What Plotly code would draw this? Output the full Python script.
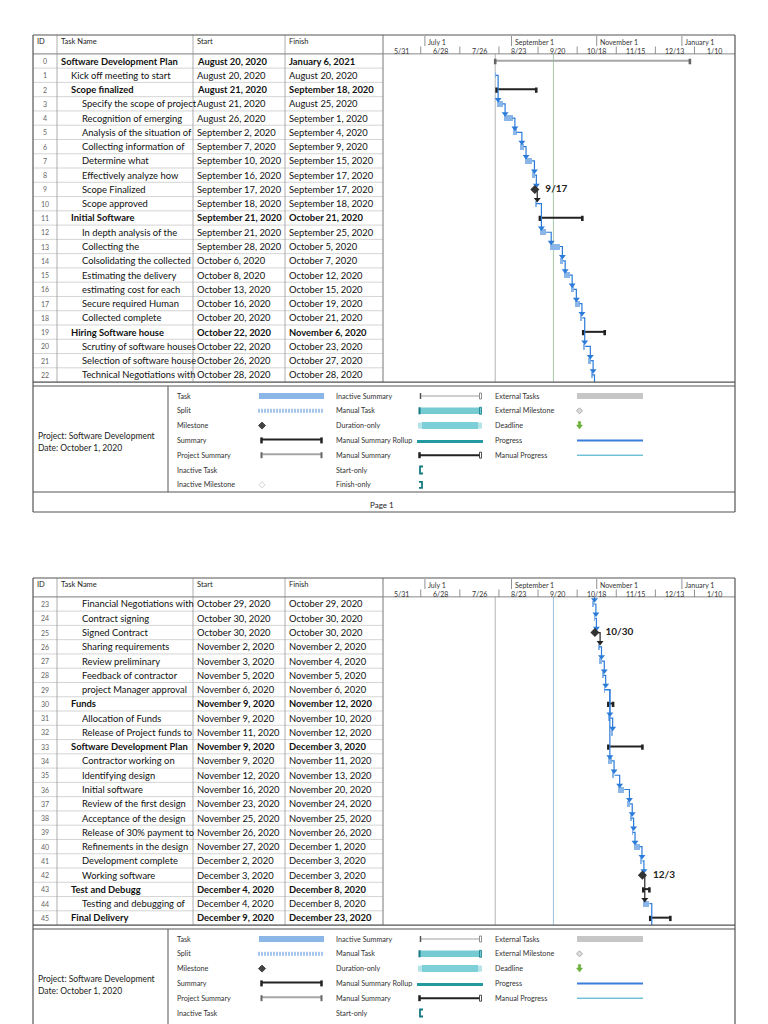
import plotly.graph_objects as go
from datetime import datetime, timedelta

# ---------------- data ----------------
IDS = list(range(46))
NAMES = [
    "Software Development Plan", "Kick off meeting to start", "Scope finalized",
    "Specify the scope of project", "Recognition of emerging", "Analysis of the situation of",
    "Collecting information of", "Determine what", "Effectively analyze how",
    "Scope Finalized", "Scope approved", "Initial Software", "In depth analysis of the",
    "Collecting the", "Colsolidating the collected", "Estimating the delivery",
    "estimating cost for each", "Secure required Human", "Collected complete",
    "Hiring Software house", "Scrutiny of software houses", "Selection of software house",
    "Technical Negotiations with", "Financial Negotiations with", "Contract signing",
    "Signed Contract", "Sharing requirements", "Review preliminary", "Feedback of contractor",
    "project Manager approval", "Funds", "Allocation of Funds", "Release of Project funds to",
    "Software Development Plan", "Contractor working on", "Identifying design",
    "Initial software", "Review of the first design", "Acceptance of the design",
    "Release of 30% payment to", "Refinements in the design", "Development complete",
    "Working software", "Test and Debugg", "Testing and debugging of", "Final Delivery",
]
STARTS = [
    "2020-08-20", "2020-08-20", "2020-08-21", "2020-08-21", "2020-08-26", "2020-09-02",
    "2020-09-07", "2020-09-10", "2020-09-16", "2020-09-17", "2020-09-18", "2020-09-21",
    "2020-09-21", "2020-09-28", "2020-10-06", "2020-10-08", "2020-10-13", "2020-10-16",
    "2020-10-20", "2020-10-22", "2020-10-22", "2020-10-26", "2020-10-28", "2020-10-29",
    "2020-10-30", "2020-10-30", "2020-11-02", "2020-11-03", "2020-11-05", "2020-11-06",
    "2020-11-09", "2020-11-09", "2020-11-11", "2020-11-09", "2020-11-09", "2020-11-12",
    "2020-11-16", "2020-11-23", "2020-11-25", "2020-11-26", "2020-11-27", "2020-12-02",
    "2020-12-03", "2020-12-04", "2020-12-04", "2020-12-09",
]
FINISHES = [
    "2021-01-06", "2020-08-20", "2020-09-18", "2020-08-25", "2020-09-01", "2020-09-04",
    "2020-09-09", "2020-09-15", "2020-09-17", "2020-09-17", "2020-09-18", "2020-10-21",
    "2020-09-25", "2020-10-05", "2020-10-07", "2020-10-12", "2020-10-15", "2020-10-19",
    "2020-10-21", "2020-11-06", "2020-10-23", "2020-10-27", "2020-10-28", "2020-10-29",
    "2020-10-30", "2020-10-30", "2020-11-02", "2020-11-04", "2020-11-05", "2020-11-06",
    "2020-11-12", "2020-11-10", "2020-11-12", "2020-12-03", "2020-11-11", "2020-11-13",
    "2020-11-20", "2020-11-24", "2020-11-25", "2020-11-26", "2020-12-01", "2020-12-03",
    "2020-12-03", "2020-12-08", "2020-12-08", "2020-12-23",
]
# P = project summary, S = summary, M = milestone, T = task
KINDS = ["P", "T", "S", "T", "T", "T", "T", "T", "T", "M", "T", "S", "T", "T", "T", "T",
         "T", "T", "T", "S", "T", "T", "T", "T", "T", "M", "T", "T", "T", "T", "S", "T",
         "T", "S", "T", "T", "T", "T", "T", "T", "T", "T", "M", "S", "T", "S"]
LEVELS = [0, 1, 1, 2, 2, 2, 2, 2, 2, 2, 2, 1, 2, 2, 2, 2, 2, 2, 2, 1, 2, 2, 2, 2, 2, 2,
          2, 2, 2, 2, 1, 2, 2, 1, 2, 2, 2, 2, 2, 2, 2, 2, 2, 1, 2, 1]
LINKS = [(1, 3), (3, 4), (4, 5), (5, 6), (6, 7), (7, 8), (8, 9), (9, 10), (10, 12),
         (12, 13), (13, 14), (14, 15), (15, 16), (16, 17), (17, 18), (18, 20), (20, 21),
         (21, 22), (22, 23), (23, 24), (24, 25), (25, 26), (26, 27), (27, 28), (28, 29),
         (29, 31), (31, 32), (29, 34), (34, 35), (35, 36), (36, 37), (37, 38), (38, 39),
         (39, 40), (40, 41), (41, 42), (42, 44), (44, 46)]
NEXT_PAGE_START = {46: "2020-12-09"}   # successor continuing on the following page

BOTTOM_TICKS = ["2020-05-31", "2020-06-28", "2020-07-26", "2020-08-23", "2020-09-20",
                "2020-10-18", "2020-11-15", "2020-12-13", "2021-01-10"]
BOTTOM_LABELS = ["5/31", "6/28", "7/26", "8/23", "9/20", "10/18", "11/15", "12/13", "1/10"]
TOP_TICKS = ["2020-07-01", "2020-09-01", "2020-11-01", "2021-01-01"]
TOP_LABELS = ["July 1", "September 1", "November 1", "January 1"]
STATUS_DATE = "2020-10-01"
PROJECT_START = "2020-08-20"
X_RANGE = ["2020-06-01", "2021-02-08"]

LEGEND_COL1 = ["Task", "Split", "Milestone", "Summary", "Project Summary", "Inactive Task",
               "Inactive Milestone"]
LEGEND_COL2 = ["Inactive Summary", "Manual Task", "Duration-only", "Manual Summary Rollup",
               "Manual Summary", "Start-only", "Finish-only"]
LEGEND_COL3 = ["External Tasks", "External Milestone", "Deadline", "Progress", "Manual Progress"]
MONTHS = ["January", "February", "March", "April", "May", "June", "July", "August",
          "September", "October", "November", "December"]

# ---------------- style / geometry ----------------
W, H = 768, 1024
PAGE_SHIFT = 8          # the page body margin offsets the figure by 8px
FONT = "Lato, 'Open Sans', sans-serif"
TASK_COLOR = "#8AB6E8"
LINK_COLOR = "#2B7BD9"
DARK = "#222222"
GRID = "#C9C9C9"
BORDER = "#555555"

PAGE_OFF = 543
ROW0 = 61.0
PITCH = 14.27
XL, XID, XNAME, XSTART, XG, XR = 33, 57, 193, 285, 383, 735
PAGE_TOP = 35
ROWS_TOP = ROW0 - PITCH / 2
ROWS_BOT = ROWS_TOP + 23 * PITCH


def fx(x):
    return (x - PAGE_SHIFT) / W


def fy(y):
    return 1 - (y - PAGE_SHIFT) / H


def ts(s, h=0):
    return datetime.fromisoformat(s) + timedelta(hours=h)


def fmt(s):
    d = datetime.fromisoformat(s)
    return f"{MONTHS[d.month - 1]} {d.day}, {d.year}"


shapes = []
annotations = []


def pline(x0, y0, x1, y1, color=BORDER, width=1, dash=None):
    ln = dict(color=color, width=width)
    if dash:
        ln["dash"] = dash
    shapes.append(dict(type="line", xref="paper", yref="paper", x0=fx(x0), y0=fy(y0),
                       x1=fx(x1), y1=fy(y1), line=ln, layer="above"))


def prect(x0, y0, x1, y1, fill, lcolor=None, lwidth=0):
    shapes.append(dict(type="rect", xref="paper", yref="paper", x0=fx(x0), y0=fy(y0),
                       x1=fx(x1), y1=fy(y1), fillcolor=fill,
                       line=dict(color=lcolor or fill, width=lwidth), layer="above"))


def ppath(points, fill=None, color=DARK, width=1, close=True):
    d = "M " + " L ".join(f"{fx(x)},{fy(y)}" for x, y in points) + (" Z" if close else "")
    shapes.append(dict(type="path", xref="paper", yref="paper", path=d,
                       fillcolor=fill if fill else "rgba(0,0,0,0)",
                       line=dict(color=color, width=width), layer="above"))


def ptext(x, y, text, size=8, color="#333333", anchor="left"):
    annotations.append(dict(x=fx(x), y=fy(y), xref="paper", yref="paper", text=text,
                            showarrow=False, xanchor=anchor, yanchor="middle",
                            font=dict(family=FONT, size=size, color=color)))


fig = go.Figure()


# ---------------- gantt traces (drawn on each page's axes) ----------------
def add_gantt(xa, ya):
    t_rows = [i for i, k in enumerate(KINDS) if k == "T"]
    bases = [ts(STARTS[i], 8) for i in t_rows]
    ends = [ts(FINISHES[i], 17) for i in t_rows]
    fig.add_trace(go.Bar(orientation="h", y=t_rows, base=bases,
                         x=[(e - b).total_seconds() * 1000 for b, e in zip(bases, ends)],
                         width=0.42, marker=dict(color=TASK_COLOR, line=dict(width=0)),
                         xaxis=xa, yaxis=ya, hoverinfo="skip"))

    # summaries
    for kind, col, tcol in (("S", DARK, DARK), ("P", "#A6A6A6", "#666666")):
        hx, hy, tx, ty = [], [], [], []
        for i, k in enumerate(KINDS):
            if k != kind:
                continue
            s, e = ts(STARTS[i], 8), ts(FINISHES[i], 17)
            hx += [s, e, None]
            hy += [i - 0.02, i - 0.02, None]
            for xx in (s, e):
                tx += [xx, xx, None]
                ty += [i - 0.15, i + 0.22, None]
        fig.add_trace(go.Scatter(x=hx, y=hy, mode="lines", line=dict(color=col, width=2),
                                 xaxis=xa, yaxis=ya, hoverinfo="skip"))
        fig.add_trace(go.Scatter(x=tx, y=ty, mode="lines", line=dict(color=tcol, width=2.6),
                                 xaxis=xa, yaxis=ya, hoverinfo="skip"))

    # links
    def node_start(j):
        if j in NEXT_PAGE_START:
            return ts(NEXT_PAGE_START[j], 8)
        if KINDS[j] == "M":
            return ts(FINISHES[j], 17)
        return ts(STARTS[j], 8)

    for black in (False, True):
        lx, ly, ax, ay = [], [], [], []
        for p, s in LINKS:
            if (KINDS[p] == "M") != black:
                continue
            pe = ts(FINISHES[p], 17)
            ss = node_start(s)
            xv = max(pe, ss) + timedelta(hours=26)
            lx += [pe, xv, xv, None]
            ly += [p, p, s - 0.34, None]
            ax.append(xv)
            ay.append(s - 0.3)
        col = DARK if black else LINK_COLOR
        fig.add_trace(go.Scatter(x=lx, y=ly, mode="lines", line=dict(color=col, width=1.2),
                                 xaxis=xa, yaxis=ya, hoverinfo="skip"))
        fig.add_trace(go.Scatter(x=ax, y=ay, mode="markers",
                                 marker=dict(symbol="triangle-down", size=6, color=col),
                                 xaxis=xa, yaxis=ya, hoverinfo="skip"))

    # milestones
    m_rows = [i for i, k in enumerate(KINDS) if k == "M"]
    m_x = [ts(FINISHES[i], 17) for i in m_rows]
    m_txt = []
    for i in m_rows:
        d = datetime.fromisoformat(FINISHES[i])
        m_txt.append(f"  <b>{d.month}/{d.day}</b>")
    fig.add_trace(go.Scatter(x=m_x, y=m_rows, mode="markers+text", text=m_txt,
                             textposition="middle right",
                             textfont=dict(family=FONT, size=10, color=DARK),
                             marker=dict(symbol="diamond", size=7, color="#333333"),
                             xaxis=xa, yaxis=ya, hoverinfo="skip"))


add_gantt("x", "y")
add_gantt("x2", "y2")


# ---------------- page furniture ----------------
def draw_page(p):
    off = p * PAGE_OFF
    xa = "x" if p == 0 else "x2"
    ya = "y" if p == 0 else "y2"
    r0 = 23 * p
    top = PAGE_TOP + off
    rtop = ROWS_TOP + off
    rbot = ROWS_BOT + off

    # row grid lines in table
    for k in range(24):
        shapes.append(dict(type="line", xref="paper", yref=ya, x0=fx(XL), x1=fx(XG),
                           y0=r0 - 0.5 + k, y1=r0 - 0.5 + k,
                           line=dict(color=GRID, width=0.8), layer="below"))
    # column lines
    for x in (XID, XNAME, XSTART):
        pline(x, top, x, rbot, color="#9A9A9A", width=0.8)
    pline(XG, top, XG, rbot, color="#777777", width=1)
    pline(XL, rtop, XR, rtop, color="#888888", width=1)
    pline(XL, rbot, XR, rbot, color=BORDER, width=1.2)

    # header texts
    for x, t in ((35, "ID"), (58.5, "Task Name"), (194.5, "Start"), (286.5, "Finish")):
        ptext(x, top + 6, t, size=7.5, color="#222222")

    # timescale
    for d, lab in zip(TOP_TICKS, TOP_LABELS):
        shapes.append(dict(type="line", xref=xa, yref="paper", x0=d, x1=d,
                           y0=fy(top + 1), y1=fy(top + 11), line=dict(color="#777777", width=0.8)))
        annotations.append(dict(x=d, y=fy(top + 6.5), xref=xa, yref="paper", text=lab,
                                showarrow=False, xanchor="left", yanchor="middle", xshift=1,
                                font=dict(family=FONT, size=7, color="#333333")))
    for k, (d, lab) in enumerate(zip(BOTTOM_TICKS, BOTTOM_LABELS)):
        if k > 0:
            shapes.append(dict(type="line", xref=xa, yref="paper", x0=d, x1=d,
                               y0=fy(top + 11.5), y1=fy(rtop), line=dict(color="#777777", width=0.8)))
        mid = ts(d) + timedelta(days=14)
        annotations.append(dict(x=mid, y=fy(top + 15.5), xref=xa, yref="paper", text=lab,
                                showarrow=False, xanchor="center", yanchor="middle",
                                font=dict(family=FONT, size=7, color="#333333")))

    # vertical date lines in gantt
    shapes.append(dict(type="line", xref=xa, yref="paper", x0=ts(PROJECT_START, 8),
                       x1=ts(PROJECT_START, 8), y0=fy(rtop), y1=fy(rbot),
                       line=dict(color="#B5B5B5", width=1), layer="below"))
    scol = "#A9CBA4" if p == 0 else "#9FC0E0"
    shapes.append(dict(type="line", xref=xa, yref="paper", x0=ts(STATUS_DATE),
                       x1=ts(STATUS_DATE), y0=fy(rtop), y1=fy(rbot),
                       line=dict(color=scol, width=1), layer="below"))

    # table text
    for j in range(r0, r0 + 23):
        bold = KINDS[j] in ("S", "P")
        b0, b1 = ("<b>", "</b>") if bold else ("", "")
        annotations.append(dict(x=fx(45), y=j, xref="paper", yref=ya, text=str(IDS[j]),
                                showarrow=False, xanchor="center", yanchor="middle",
                                font=dict(family=FONT, size=7, color="#666666")))
        nx = 58.5 + 10.5 * LEVELS[j]
        for x, t in ((nx, NAMES[j]), (194.5, fmt(STARTS[j])), (286.5, fmt(FINISHES[j]))):
            annotations.append(dict(x=fx(x), y=j, xref="paper", yref=ya, text=b0 + t + b1,
                                    showarrow=False, xanchor="left", yanchor="middle",
                                    font=dict(family=FONT, size=9.4, color="#111111")))

    # legend box
    lt, lb = 386 + off, 492 + off
    pline(XL, lt, XR, lt, color=BORDER, width=1.2)
    pline(XL, lb, XR, lb, color=BORDER, width=1.2)
    pline(168, lt, 168, lb, color=BORDER, width=1)
    ptext(36, 436 + off, "Project: Software Development", size=8.5, color="#222222")
    ptext(36, 448 + off, "Date: October 1, 2020", size=8.5, color="#222222")
    rows_y = [396 + off + 14.8 * i for i in range(7)]
    visible = [yy < H + PAGE_SHIFT - 6 for yy in rows_y]
    for i, t in enumerate(LEGEND_COL1):
        if visible[i]:
            ptext(175, rows_y[i], t, size=7.2)
    for i, t in enumerate(LEGEND_COL2):
        if visible[i]:
            ptext(334, rows_y[i], t, size=7.2)
    for i, t in enumerate(LEGEND_COL3):
        if visible[i]:
            ptext(493, rows_y[i], t, size=7.2)
    y = rows_y
    # col1 symbols
    prect(259, y[0] - 3, 324, y[0] + 3, TASK_COLOR)
    for i in range(22):
        xx = 259 + i * 3.0
        pline(xx, y[1] - 2, xx, y[1] + 2, color="#4C8ED6", width=1)
    ppath([(262, y[2] - 3.5), (265.5, y[2]), (262, y[2] + 3.5), (258.5, y[2])], fill="#444444",
          color="#444444")
    pline(261, y[3] - 1, 322, y[3] - 1, color=DARK, width=2)
    pline(261.5, y[3] - 3, 261.5, y[3] + 3, color=DARK, width=2.5)
    pline(321.5, y[3] - 3, 321.5, y[3] + 3, color=DARK, width=2.5)
    pline(261, y[4] - 1, 322, y[4] - 1, color="#A6A6A6", width=2)
    pline(261.5, y[4] - 3, 261.5, y[4] + 3, color="#666666", width=2)
    pline(321.5, y[4] - 3, 321.5, y[4] + 3, color="#666666", width=2)
    if visible[6]:
        ppath([(262, y[6] - 3), (265, y[6]), (262, y[6] + 3), (259, y[6])], color="#D0D0D0")
    # col2 symbols
    pline(420, y[0], 481, y[0], color="#CFCFCF", width=2)
    pline(420.5, y[0] - 3, 420.5, y[0] + 3, color="#555555", width=1.5)
    prect(479.5, y[0] - 3, 481.5, y[0] + 3, "white", "#777777", 0.8)
    prect(419, y[1] - 3.2, 481, y[1] + 3.2, "#76CAD2")
    pline(419.5, y[1] - 3.5, 419.5, y[1] + 3.5, color="#137A84", width=2)
    prect(479.5, y[1] - 3.5, 481.5, y[1] + 3.5, "#76CAD2", "#137A84", 0.8)
    prect(422, y[2] - 3.5, 478, y[2] + 3.5, "#7DD0D7")
    prect(418, y[2] - 3, 422, y[2] + 3, "#B5E4E8")
    prect(478, y[2] - 3, 482, y[2] + 3, "#B5E4E8")
    pline(417, y[3] + 1, 483, y[3] + 1, color="#24999F", width=3)
    pline(419, y[4], 481, y[4], color=DARK, width=2)
    pline(419.5, y[4] - 3, 419.5, y[4] + 3, color=DARK, width=2.5)
    prect(479.5, y[4] - 3, 481.5, y[4] + 3, "white", DARK, 0.8)
    ppath([(423, y[5] - 3.5), (420, y[5] - 3.5), (420, y[5] + 3.5), (423, y[5] + 3.5)],
          color="#137A84", width=1.8, close=False)
    if visible[6]:
        ppath([(419, y[6] - 3), (422, y[6] - 3), (422, y[6] + 3), (419, y[6] + 3)],
              color="#137A84", width=1.8, close=False)
    # col3 symbols
    prect(577, y[0] - 3, 643, y[0] + 3, "#C6C6C6")
    ppath([(579.5, y[1] - 3), (582.5, y[1]), (579.5, y[1] + 3), (576.5, y[1])], fill="#DDDDDD",
          color="#AAAAAA")
    ppath([(578.3, y[2] - 4), (580.7, y[2] - 4), (580.7, y[2] - 0.5), (582.5, y[2] - 0.5),
           (579.5, y[2] + 3.5), (576.5, y[2] - 0.5), (578.3, y[2] - 0.5)], fill="#6BB03A",
          color="#6BB03A", width=0.5)
    pline(577, y[3], 643, y[3], color="#3A7FDB", width=2)
    pline(577, y[4], 643, y[4], color="#2EA6C4", width=1)

    # outer frame & footer
    fb = 512 + off
    pline(XL, top, XR, top, color=BORDER, width=1.2)
    pline(XL, top, XL, fb, color=BORDER, width=1.2)
    pline(XR, top, XR, fb, color=BORDER, width=1.2)
    pline(XL, fb, XR, fb, color=BORDER, width=1.2)
    if 505 + off < H:
        ptext(382, 505 + off, f"Page {p + 1}", size=8, color="#222222", anchor="center")


draw_page(0)
draw_page(1)

for p in range(2):
    rtop = ROWS_TOP + p * PAGE_OFF
    rbot = ROWS_BOT + p * PAGE_OFF
    r0 = 23 * p
    sfx = "" if p == 0 else "2"
    fig.layout["xaxis" + sfx] = dict(domain=[fx(XG), fx(XR)], range=X_RANGE, type="date",
                                     visible=False, anchor="y" + sfx, fixedrange=True)
    fig.layout["yaxis" + sfx] = dict(domain=[fy(rbot), fy(rtop)], range=[r0 + 22.5, r0 - 0.5],
                                     type="linear", visible=False, anchor="x" + sfx,
                                     fixedrange=True)

fig.update_traces(showlegend=False)
fig.update_traces(cliponaxis=True, selector=dict(type="scatter"))
fig.update_layout(width=W, height=H, margin=dict(l=0, r=0, t=0, b=0),
                  paper_bgcolor="white", plot_bgcolor="rgba(0,0,0,0)",
                  showlegend=False, bargap=0, shapes=shapes, annotations=annotations,
                  font=dict(family=FONT))

fig.write_html("out.html")
